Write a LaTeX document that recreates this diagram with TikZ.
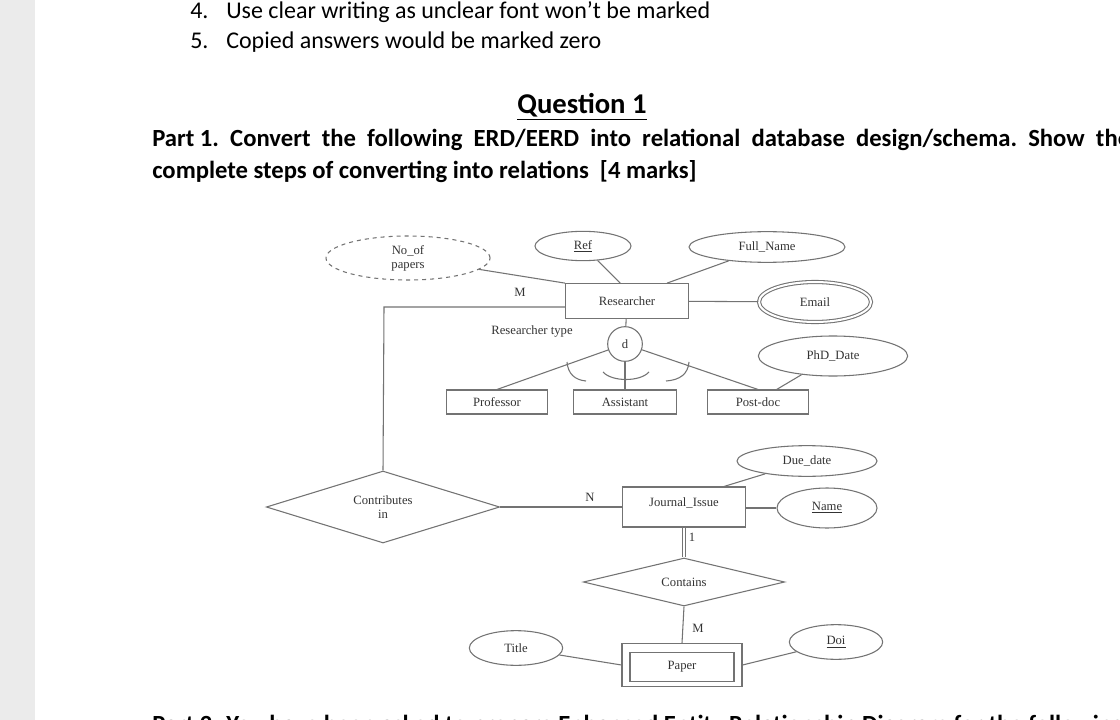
\documentclass[tikz,border=0pt]{standalone}
\usepackage{fontspec}
\usetikzlibrary{shapes.geometric}
\newfontfamily\carl{Carlito}
\newfontfamily\erdf{Liberation Serif}
\begin{document}
\begin{tikzpicture}[x=0.75pt,y=-0.75pt,
  ln/.style={draw=black!55,line width=0.8pt},
  lbl/.style={font=\erdf\fontsize{9.5}{10.5}\selectfont,text=black!80,inner sep=0},
  att/.style={ellipse,ln,inner sep=0,lbl},
  ent/.style={rectangle,ln,inner sep=0,lbl},
  rel/.style={diamond,ln,inner sep=0,lbl,aspect=3},
  top/.style={font=\carl\fontsize{18}{21}\selectfont,anchor=base west,inner sep=0},
  bold/.style={top,font=\carl\bfseries\fontsize{18.5}{22}\selectfont}]
\useasboundingbox (0,0) rectangle (1120,720);
\clip (0,0) rectangle (1120,720);
\fill[white] (0,0) rectangle (1120,720);
\fill[black!8] (0,0) rectangle (35,720);
% header text
\node[top] (n4) at (190,19) {4.};
\node[top] (t4) at (226,19) {Use clear writing as unclear font won’t be marked};
\node[top] (n5) at (190,49) {5.};
\node[top] (t5) at (226,49) {Copied answers would be marked zero};
\node[font=\carl\bfseries\fontsize{21.5}{24}\selectfont,anchor=base,inner sep=0] (q) at (582,114) {\underline{Question 1}};
\node[bold] (p1) at (152,147) {Part 1.\ \ Convert\ \ the\ \ following\ \ ERD/EERD\ \ into\ \ relational\ \ database\ \ design/schema.\ \ Show\ \ the};
\node[bold] (p1b) at (152,179) {complete steps of converting into relations\ \ [4 marks]};
\node[bold] (p2) at (152,732) {Part 2. You have been asked to prepare Enhanced Entity Relationship Diagram for the following};
% ERD nodes
\node[att,dashed,minimum width=123pt,minimum height=33pt,align=center] (nop) at (408,258) {No\_of\\papers};
\node[att,minimum width=72pt,minimum height=22pt] (ref) at (583,246) {\underline{Ref}};
\node[att,minimum width=117pt,minimum height=23pt] (fn) at (767,247) {Full\_Name};
\node[ent,minimum width=92pt,minimum height=26pt] (res) at (627,301) {Researcher};
\node[att,minimum width=84pt,minimum height=30pt,double,double distance=1.5pt] (email) at (815,302) {Email};
\node[lbl] (m1) at (520,292) {M};
\node[lbl] (rt) at (532,331) {Researcher type};
\node[circle,ln,minimum size=26pt,inner sep=0,lbl] (d) at (625,344) {d};
\node[att,minimum width=112pt,minimum height=30pt] (phd) at (833,356) {PhD\_Date};
\node[ent,minimum width=76pt,minimum height=18pt] (prof) at (497,402) {Professor};
\node[ent,minimum width=77pt,minimum height=18pt] (asst) at (625,402) {Assistant};
\node[ent,minimum width=76pt,minimum height=18pt] (pd) at (758,402) {Post-doc};
\node[att,minimum width=105pt,minimum height=23pt] (due) at (807,461) {Due\_date};
\node[ent,minimum width=92pt,minimum height=30pt] (ji) at (684,507) {\raisebox{7pt}{Journal\_Issue}};
\node[att,minimum width=75pt,minimum height=30pt] (name) at (827,508) {\underline{Name}};
\node[lbl] (nn) at (590,497) {N};
\node[rel,minimum width=175pt,minimum height=54pt,align=center] (con) at (383,507) {Contributes\\in};
\node[rel,minimum width=151pt,minimum height=36pt] (cont) at (684,582) {Contains};
\node[lbl] (one) at (692,537) {1};
\node[lbl] (m2) at (698,628) {M};
\node[ent,minimum width=90pt,minimum height=32pt] (paper) at (682,665) {};
\node[ent,minimum width=78pt,minimum height=22pt] (pin) at (682,667) {Paper};
\node[att,minimum width=70pt,minimum height=26pt] (title) at (516,648) {Title};
\node[att,minimum width=70pt,minimum height=26pt] (doi) at (836,642) {\underline{Doi}};
\coordinate (corner) at (384,307);
% connectors
\draw[ln] (nop) -- (res.north west);
\draw[ln] (ref) -- ([xshift=-5pt]res.north);
\draw[ln] (fn) -- ([xshift=30pt]res.north);
\draw[ln] (res) -- (email);
\draw[ln] (res) -- (d);
\draw[ln] (d) -- (prof.north);
\draw[ln] (d) -- (asst.north);
\draw[ln] (d) -- (pd.north);
\draw[ln] (phd) -- ([xshift=14pt]pd.north);
\draw[ln] (res.west |- corner) -- (corner) -- (con.north);
\draw[ln] (con.east) -- (ji.west |- con.east);
\draw[ln] (due) -- ([xshift=30pt]ji.north);
\draw[ln] (ji.east |- name) -- (name);
\draw[ln,double,double distance=1.5pt] (ji.south) -- (cont.north);
\draw[ln] (cont.south) -- (paper.north);
\draw[ln] (title) -- (paper.west);
\draw[ln] (doi) -- (paper.east);
% subset arcs
\draw[ln] (567,362) .. controls (568,374) and (575,380) .. (586,381);
\draw[ln] (603,372) .. controls (612,382) and (640,382) .. (649,372);
\draw[ln] (689,362) .. controls (688,374) and (680,380) .. (666,381);
\end{tikzpicture}
\end{document}
